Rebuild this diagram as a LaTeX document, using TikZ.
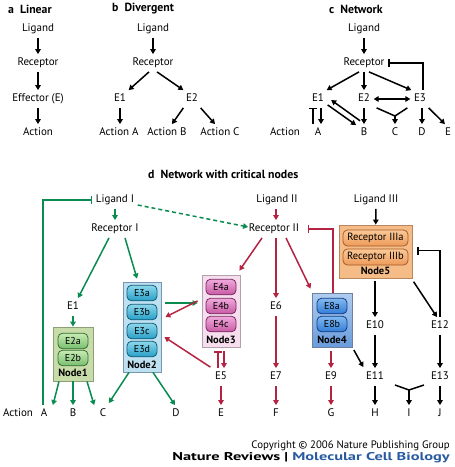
\documentclass[tikz,border=0pt]{standalone}
\usepackage{fontspec}
\usepackage{graphicx}
\setmainfont{PT Sans}
\usetikzlibrary{arrows.meta}
\definecolor{grn}{RGB}{10,140,80}
\definecolor{rd}{RGB}{180,35,65}
\definecolor{nrblue}{RGB}{40,90,160}
\definecolor{nAbg}{RGB}{200,220,170}\definecolor{nAbd}{RGB}{140,160,120}
\definecolor{pAt}{RGB}{200,235,180}\definecolor{pAb}{RGB}{120,190,110}\definecolor{pAd}{RGB}{50,110,50}
\definecolor{nBbg}{RGB}{190,225,242}\definecolor{nBbd}{RGB}{120,150,175}
\definecolor{pBt}{RGB}{140,215,235}\definecolor{pBb}{RGB}{40,160,200}\definecolor{pBd}{RGB}{20,90,120}
\definecolor{nCbg}{RGB}{246,222,238}\definecolor{nCbd}{RGB}{180,160,172}
\definecolor{pCt}{RGB}{240,170,220}\definecolor{pCb}{RGB}{200,90,165}\definecolor{pCd}{RGB}{120,40,95}
\definecolor{nDt}{RGB}{175,205,240}\definecolor{nDb}{RGB}{105,155,220}\definecolor{nDbd}{RGB}{110,130,160}
\definecolor{pDt}{RGB}{130,185,240}\definecolor{pDb}{RGB}{50,125,215}\definecolor{pDd}{RGB}{20,60,130}
\definecolor{nEbg}{RGB}{246,188,135}\definecolor{nEbd}{RGB}{185,135,95}
\definecolor{pEt}{RGB}{250,200,150}\definecolor{pEb}{RGB}{238,155,90}\definecolor{pEd}{RGB}{165,90,40}
\begin{document}
\begin{tikzpicture}[x=1pt,y=-1pt,
  lbl/.style={inner sep=3.5pt, text height=7.8pt, text depth=2.6pt, font=\fontsize{11}{13}\selectfont},
  ttl/.style={anchor=west, inner sep=0pt, font=\fontsize{11.8}{14}\selectfont\bfseries},
  arr/.style={line width=1.5pt, -{Triangle[length=5pt,width=5.5pt]}},
  arrb/.style={line width=1.5pt, {Triangle[length=5pt,width=5.5pt]}-{Triangle[length=5pt,width=5.5pt]}},
  inh/.style={line width=1.5pt, -{Bar[width=8pt,line width=1.5pt]}},
  ln/.style={line width=1.5pt},
  gc/.style={color=grn},
  rc/.style={color=rd},
  box/.style={draw, line width=0.8pt, inner sep=0pt},
  pill/.style={draw, rounded corners=4.5pt, line width=0.8pt, inner sep=0pt, minimum width=30pt, minimum height=15.5pt, font=\fontsize{10}{12}\selectfont},
  blbl/.style={inner sep=0pt, font=\fontsize{10.5}{12}\selectfont\bfseries}
]
\useasboundingbox (0,0) rectangle (455,467);
\fill[white] (0,0) rectangle (455,467);

% ---------- titles ----------
\node[ttl] (ta) at (8,9) {a\hspace{6pt}Linear};
\node[ttl] (tb) at (112,9) {b\hspace{6pt}Divergent};
\node[ttl] (tc) at (329,9) {c\hspace{6pt}Network};
\node[ttl] (td) at (148,174) {d\hspace{6pt}Network with critical nodes};

% ---------- panel a ----------
\node[lbl] (aL) at (38,29) {Ligand};
\node[lbl] (aR) at (38,63) {Receptor};
\node[lbl] (aE) at (38,99) {Effector (E)};
\node[lbl] (aA) at (38,133) {Action};
\draw[arr] (aL) -- (aR);
\draw[arr] (aR) -- (aE);
\draw[arr] (aE) -- (aA);

% ---------- panel b ----------
\node[lbl] (bL) at (153,29) {Ligand};
\node[lbl] (bR) at (153,63) {Receptor};
\node[lbl] (bE1) at (120,99) {E1};
\node[lbl] (bE2) at (192,99) {E2};
\node[lbl] (bA) at (119,133) {Action A};
\node[lbl] (bB) at (167,133) {Action B};
\node[lbl] (bC) at (220,133) {Action C};
\draw[arr] (bL) -- (bR);
\draw[arr] ([xshift=-4pt]bR.south) -- ([xshift=-1pt]bE1.north east);
\draw[arr] ([xshift=4pt]bR.south) -- ([xshift=1pt]bE2.north west);
\draw[arr] (bE1) -- (bE1 |- bA.north);
\draw[arr] ([xshift=1pt]bE2.south west) -- ([xshift=5pt]bB.north);
\draw[arr] ([xshift=-1pt]bE2.south east) -- ([xshift=-5pt]bC.north);

% ---------- panel c ----------
\node[lbl] (cL) at (364,29) {Ligand};
\node[lbl] (cR) at (364,63) {Receptor};
\node[lbl] (cE1) at (318,99) {E1};
\node[lbl] (cE2) at (364,99) {E2};
\node[lbl] (cE3) at (420,99) {E3};
\node[lbl] (cAct) at (285,133) {Action};
\node[lbl] (cA) at (318,133) {A};
\node[lbl] (cB) at (364,133) {B};
\node[lbl] (cC) at (395,133) {C};
\node[lbl] (cD) at (422,133) {D};
\node[lbl] (cE) at (448,133) {E};
\coordinate (cM) at (395,116);
\draw[arr] (cL) -- (cR);
\draw[arr] ([xshift=-5pt]cR.south) -- ([xshift=-1pt]cE1.north east);
\draw[arr] (cR) -- (cE2);
\draw[arr] ([xshift=5pt]cR.south) -- ([xshift=1pt]cE3.north west);
\draw[inh] ([xshift=3pt]cE3.north) |- (cR.east);
\draw[arrb] (cE2) -- (cE3);
\draw[arr] (cE2) -- (cB);
\draw[ln] ([xshift=3pt]cE2.south east) -- (cM);
\draw[ln] ([xshift=-3pt]cE3.south west) -- (cM);
\draw[arr] (cM) -- (cC.north);
\draw[arr] ([xshift=2pt]cE3.south) -- ([xshift=2pt]cE3.south |- cD.north);
\draw[arr] ([xshift=-1pt]cE3.south east) -- ([xshift=-3pt]cE.north);
\draw[inh] ([xshift=-5pt]cA.north) -- ([xshift=-5pt]cE1.south);
\draw[arr] ([xshift=3pt]cE1.south) -- ([xshift=3pt]cA.north);
\draw[arr] ([yshift=3pt]cE1.south east) -- ([shift={(-1pt,-1pt)}]cB.north west);
\draw[arr] ([shift={(3pt,3.3pt)}]cB.north west) -- ([shift={(3.5pt,-1pt)}]cE1.east);

% ---------- panel d : boxes ----------
% Node1
\node[box, draw=nAbd, fill=nAbg, minimum width=40pt, minimum height=54pt] (N1) at (73,354) {};
\node[pill, draw=pAd, top color=pAt, bottom color=pAb] (E2a) at (73,341) {E2a};
\node[pill, draw=pAd, top color=pAt, bottom color=pAb] (E2b) at (73,358) {E2b};
\node[blbl] (N1l) at (73,373) {Node1};
% Node2
\node[box, draw=nBbd, fill=nBbg, minimum width=38pt, minimum height=90pt] (N2) at (142,327) {};
\node[pill, draw=pBd, top color=pBt, bottom color=pBb] (E3a) at (142,293) {E3a};
\node[pill, draw=pBd, top color=pBt, bottom color=pBb] (E3b) at (142,312) {E3b};
\node[pill, draw=pBd, top color=pBt, bottom color=pBb] (E3c) at (142,331) {E3c};
\node[pill, draw=pBd, top color=pBt, bottom color=pBb] (E3d) at (142,349) {E3d};
\node[blbl] (N2l) at (142,365) {Node2};
% Node3
\node[box, draw=nCbd, fill=nCbg, minimum width=38pt, minimum height=72pt] (N3) at (221,311) {};
\node[pill, draw=pCd, top color=pCt, bottom color=pCb] (E4a) at (221,287) {E4a};
\node[pill, draw=pCd, top color=pCt, bottom color=pCb] (E4b) at (221,306) {E4b};
\node[pill, draw=pCd, top color=pCt, bottom color=pCb] (E4c) at (221,324) {E4c};
\node[blbl] (N3l) at (221,340) {Node3};
% Node4
\node[box, draw=nDbd, top color=nDt, bottom color=nDb, minimum width=40pt, minimum height=54pt] (N4) at (332,320) {};
\node[pill, draw=pDd, top color=pDt, bottom color=pDb] (E8a) at (332,306) {E8a};
\node[pill, draw=pDd, top color=pDt, bottom color=pDb] (E8b) at (332,324) {E8b};
\node[blbl] (N4l) at (332,340) {Node4};
% Node5
\node[box, draw=nEbd, fill=nEbg, minimum width=73pt, minimum height=53pt] (N5) at (375.5,251.5) {};
\node[pill, draw=pEd, top color=pEt, bottom color=pEb, minimum width=65pt, minimum height=16pt, font=\fontsize{10.5}{12}\selectfont] (R3a) at (375.5,238) {Receptor IIIa};
\node[pill, draw=pEd, top color=pEt, bottom color=pEb, minimum width=65pt, minimum height=16pt, font=\fontsize{10.5}{12}\selectfont] (R3b) at (375.5,257) {Receptor IIIb};
\node[blbl] (N5l) at (375.5,271) {Node5};

% ---------- panel d : labels ----------
\node[lbl] (dL1) at (115,200) {Ligand I};
\node[lbl] (dR1) at (115,229) {Receptor I};
\node[lbl] (dE1) at (73,307) {E1};
\node[lbl] (dL2) at (277,200) {Ligand II};
\node[lbl] (dR2) at (274,229) {Receptor II};
\node[lbl] (dL3) at (376,200) {Ligand III};
\node[lbl] (dE6) at (276,307) {E6};
\node[lbl] (dE10) at (375,326) {E10};
\node[lbl] (dE12) at (440,326) {E12};
\node[lbl] (dE5) at (221,377) {E5};
\node[lbl] (dE7) at (276,377) {E7};
\node[lbl] (dE9) at (331,377) {E9};
\node[lbl] (dE11) at (375,377) {E11};
\node[lbl] (dE13) at (440,377) {E13};
\node[lbl] (dAct) at (18,414) {Action};
\node[lbl] (dA) at (44,414) {A};
\node[lbl] (dB) at (73,414) {B};
\node[lbl] (dC) at (103,414) {C};
\node[lbl] (dD) at (176,414) {D};
\node[lbl] (dE) at (221,414) {E};
\node[lbl] (dF) at (276,414) {F};
\node[lbl] (dG) at (331,414) {G};
\node[lbl] (dH) at (375,414) {H};
\node[lbl] (dI) at (409,414) {I};
\node[lbl] (dJ) at (440,414) {J};
\coordinate (dM1) at (395,385);
\coordinate (dM2) at (424,385);
\coordinate (dM) at (409,390);

% ---------- panel d : green connectors ----------
\draw[inh, gc] ([xshift=-1pt]dA.north) |- (dL1.west);
\draw[arr, gc, dashed, dash pattern=on 4pt off 3pt] ([yshift=-5pt]dL1.east) -- ([shift={(3pt,2pt)}]dR2.west);
\draw[arr, gc] (dL1) -- (dR1);
\draw[arr, gc] ([xshift=-6pt]dR1.south) -- ([xshift=5pt]dE1.north);
\draw[arr, gc] ([xshift=10pt]dR1.south) -- ([shift={(-5pt,3pt)}]N2.north);
\draw[arr, gc] (dE1) -- (N1);
\draw[arr, gc] ([xshift=-14pt]N1.south) -- ([xshift=2pt]dA.north east);
\draw[arr, gc] (N1) -- (dB);
\draw[arr, gc] ([xshift=14pt]N1.south) -- ([xshift=-2pt]dC.north west);
\draw[arr, gc] ([xshift=-13pt]N2.south) -- ([shift={(-1pt,2pt)}]dC.north east);
\draw[arr, gc] ([xshift=11pt]N2.south) -- ([xshift=-1pt]dD.north);
\draw[arr, gc] ([shift={(4pt,24pt)}]N2.east) -- ([shift={(-4pt,8pt)}]N3.west);

% ---------- panel d : red connectors ----------
\draw[arr, rc] ([shift={(-4pt,10pt)}]N3.west) -- ([shift={(4pt,10pt)}]N2.east);
\draw[arr, rc] ([shift={(-1pt,1pt)}]dE5.north west) -- ([shift={(3pt,-10pt)}]N2.east);
\draw[arr, rc, shorten <=4pt] ([xshift=3pt]N3.south) -- ([xshift=3pt]dE5.north);
\draw[inh, rc, shorten >=4pt] ([xshift=-3pt]dE5.north) -- ([xshift=-3pt]N3.south);
\draw[arr, rc] (dE5) -- (dE);
\draw[arr, rc] ([xshift=-1pt]dL2.south) -- ([xshift=2pt]dR2.north);
\draw[arr, rc] ([xshift=-12pt]dR2.south) -- ([shift={(-1pt,4pt)}]N3.north east);
\draw[arr, rc] ([xshift=2pt]dR2.south) -- (dE6.north);
\draw[arr, rc] ([xshift=12pt]dR2.south) -- ([shift={(-1pt,4pt)}]N4.north west);
\draw[inh, rc] ([xshift=1pt]N4.north) |- ([xshift=5pt]dR2.east);
\draw[arr, rc] (dE6) -- (dE7);
\draw[arr, rc] (dE7) -- (dF);
\draw[arr, rc, shorten <=4pt] ([xshift=-1pt]N4.south) -- (dE9.north);
\draw[arr, rc] (dE9) -- (dG);

% ---------- panel d : black connectors ----------
\draw[arr] (dL3) -- (N5);
\draw[arr, shorten <=3pt] ([xshift=-0.5pt]N5.south) -- (dE10.north);
\draw[arr, shorten <=4pt] ([xshift=-1pt]N5.south east) -- ([xshift=-3pt]dE12.north);
\draw[inh] (dE12.north) |- ([shift={(5pt,1pt)}]N5.east);
\draw[arr] (dE10) -- (dE11);
\draw[arr] (dE12) -- (dE13);
\draw[arr, shorten <=3pt] (N4.south east) -- ([shift={(1pt,1pt)}]dE11.north west);
\draw[arr] (dE11) -- (dH);
\draw[arr] (dE13) -- (dJ);
\draw[ln] (dM1) -- (dM) -- (dM2);
\draw[arr] (dM) -- (dI.north);

% ---------- credit ----------
\node[anchor=east, inner sep=0pt, font=\fontsize{10.8}{12}\selectfont] (cr1) at (450,446) {Copyright \textcopyright\ 2006 Nature Publishing Group};
\node[anchor=east, inner sep=0pt, font=\fontsize{11.3}{12}\selectfont\bfseries] (cr2) at (450,458) {\scalebox{1.45}[1]{Nature Reviews | \textcolor{nrblue}{Molecular Cell Biology}}};
\end{tikzpicture}
\end{document}
